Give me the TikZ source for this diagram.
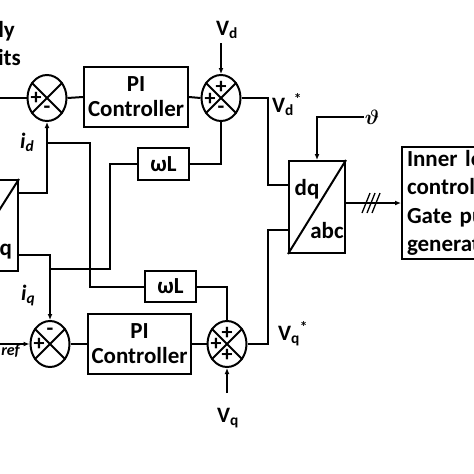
\documentclass[tikz,border=0pt]{standalone}
\usepackage{fontspec}
\setmainfont{Carlito}
\usepackage{bm}
\usetikzlibrary{arrows.meta,positioning,calc,shapes.geometric}
\newcommand{\sumcross}[1]{\draw[pcline] (#1.45) -- (#1.225) (#1.135) -- (#1.315);}
\tikzset{
  pcbox/.style={draw=black, line width=2pt, fill=white, align=center, inner sep=0pt, font=\fontsize{23}{25}\selectfont\bfseries},
  pcsum/.style={draw=black, ellipse, line width=2pt, minimum width=39pt, minimum height=46pt, inner sep=0pt},
  pcsign/.style={font=\fontsize{22}{22}\selectfont\bfseries, inner sep=0pt},
  pclbl/.style={font=\fontsize{22}{22}\selectfont\bfseries, inner sep=0pt},
  pcline/.style={line width=2pt},
  pcarrow/.style={-{Latex[length=6pt,width=5pt]}, line width=2pt}
}
\begin{document}
\begin{tikzpicture}[x=1pt, y=-1pt]
  \path[fill=white, use as bounding box] (0,0) rectangle (474,474);
  \clip (0,0) rectangle (474,474);
  % d axis
  \node[pcsum] (sumd) at (47,98) {};
  \node[pcbox, minimum width=104pt, minimum height=60pt] (pid) at (136,97) {PI\\Controller};
  \node[pcsum] (sumvd) at (221,98) {};
  \node[pcbox, minimum width=51pt, minimum height=32pt] (wld) at (163.5,164) {ωL};
  % q axis
  \node[pcsum] (sumq) at (50,344) {};
  \node[pcbox, minimum width=103pt, minimum height=60pt] (piq) at (139.5,344) {PI\\Controller};
  \node[pcsum] (sumvq) at (227,344) {};
  \node[pcbox, minimum width=51pt, minimum height=31pt] (wlq) at (170.5,286.5) {ωL};
  % transforms and gate block
  \node[pcbox, minimum width=57pt, minimum height=91pt] (abcdq) at (-10.5,225.5) {};
  \node[pcbox, minimum width=56pt, minimum height=92pt] (dqabc) at (317,207) {};
  \node[pcbox, anchor=north west, minimum width=150pt, minimum height=112pt, text width=140pt, inner xsep=5pt, align=left, font=\fontsize{23}{28.5}\selectfont\bfseries] (gate) at (401,146) {Inner loop\\control\\Gate pulse\\generator};
  \node[pclbl, font=\fontsize{23}{23}\selectfont\bfseries] (abcdqtxt) at ($(abcdq)+(10,24)$) {dq};
  \node[pclbl, font=\fontsize{23}{23}\selectfont\bfseries] (dqtxt) at ($(dqabc)+(-10,-18)$) {dq};
  \node[pclbl, font=\fontsize{23}{23}\selectfont\bfseries] (abctxt) at ($(dqabc)+(10,24)$) {abc};
  % labels
  \node[pclbl, anchor=base east, font=\fontsize{23}{23}\selectfont\bfseries] (srca) at (15,37) {ly};
  \node[pclbl, anchor=base east, font=\fontsize{23}{23}\selectfont\bfseries] (srcb) at (21,65) {its};
  \node[pclbl, anchor=base west] (vd) at (216,35) {V\textsubscript{d}};
  \node[pclbl, anchor=base west] (vq) at (217,422) {V\textsubscript{q}};
  \node[pclbl, anchor=base west] (vdref) at (272,112) {V\textsubscript{d}\textsuperscript{*}};
  \node[pclbl, anchor=base west] (vqref) at (278,340) {V\textsubscript{q}\textsuperscript{*}};
  \node[pclbl, anchor=base west] (id) at (20,148) {\textit{i}\textsubscript{\textit{d}}};
  \node[pclbl, anchor=base west] (iq) at (21,300) {\textit{i}\textsubscript{\textit{q}}};
  \node[pclbl, anchor=base east, font=\fontsize{16}{16}\selectfont\bfseries\itshape] (iqreftxt) at (20,355) {ref};
  \node[pclbl, inner sep=1pt] (theta) at (372,117) {$\bm{\vartheta}$};
  \coordinate (idref) at (0,98);
  \coordinate (iqref) at (0,344);
  \coordinate (vdin) at (221,43);
  \coordinate (vqin) at (227,393);
  \coordinate (jd) at (47,143);
  \coordinate (jq) at (50,269);
  % sum junction signs
  \sumcross{sumd} \sumcross{sumvd} \sumcross{sumq} \sumcross{sumvq}
  \node[pcsign] (sd1) at ($(sumd)+(-11,0)$) {+};
  \node[pcsign] (sd2) at ($(sumd)+(0,12)$) {-};
  \node[pcsign] (svd1) at ($(sumvd)+(0,-11)$) {+};
  \node[pcsign] (svd2) at ($(sumvd)+(-11,1)$) {+};
  \node[pcsign] (svd3) at ($(sumvd)+(0,12)$) {-};
  \node[pcsign] (sq1) at ($(sumq)+(0,-12)$) {-};
  \node[pcsign] (sq2) at ($(sumq)+(-11,0)$) {+};
  \node[pcsign] (svq1) at ($(sumvq)+(0,-11)$) {+};
  \node[pcsign] (svq2) at ($(sumvq)+(-11,0)$) {+};
  \node[pcsign] (svq3) at ($(sumvq)+(0,11)$) {+};
  % connectors
  \draw[pcline] (idref) -- (sumd.west);
  \draw[pcline] (sumd.east) -- (pid.west);
  \draw[pcline] (pid.east) -- (sumvd.west);
  \draw[pcarrow] (vdin) -- (sumvd.north);
  \draw[pcline] (wld.east) -| (sumvd.south);
  \draw[pcarrow] (abcdq.north east |- 0,193) -| (sumd.south);
  \draw[pcline] (jd) -| ($(wlq.west)+(-54,0)$) -- (wlq.west);
  \draw[pcline] (wlq.east) -| (sumvq.north);
  \draw[pcarrow] (abcdq.north east |- 0,255) -| (sumq.north);
  \draw[pcline] (wld.west) -| ($(jq)+(60,0)$) -- (jq);
  \draw[pcarrow] (iqref) -- (sumq.west);
  \draw[pcline] (sumq.east) -- (piq.west);
  \draw[pcline] (piq.east) -- (sumvq.west);
  \draw[pcarrow] (vqin) -- (sumvq.south);
  \draw[pcline] (sumvd.east) -- ++(26,0) |- (dqabc.west |- 0,185);
  \draw[pcline] (sumvq.east) -- ++(20,0) |- (dqabc.west |- 0,230);
  \draw[pcarrow] (theta.west) -| (dqabc.north);
  \draw[pcarrow] (dqabc.east |- gate.west) -- (gate.west);
  \foreach \dx in {0,5,10}
    \draw[line width=1.3pt] (362+\dx,213) -- (370+\dx,193);
  \draw[pcline] (dqabc.south west) -- (dqabc.north east);
  \draw[pcline] (abcdq.south west) -- (abcdq.north east);
\end{tikzpicture}
\end{document}
